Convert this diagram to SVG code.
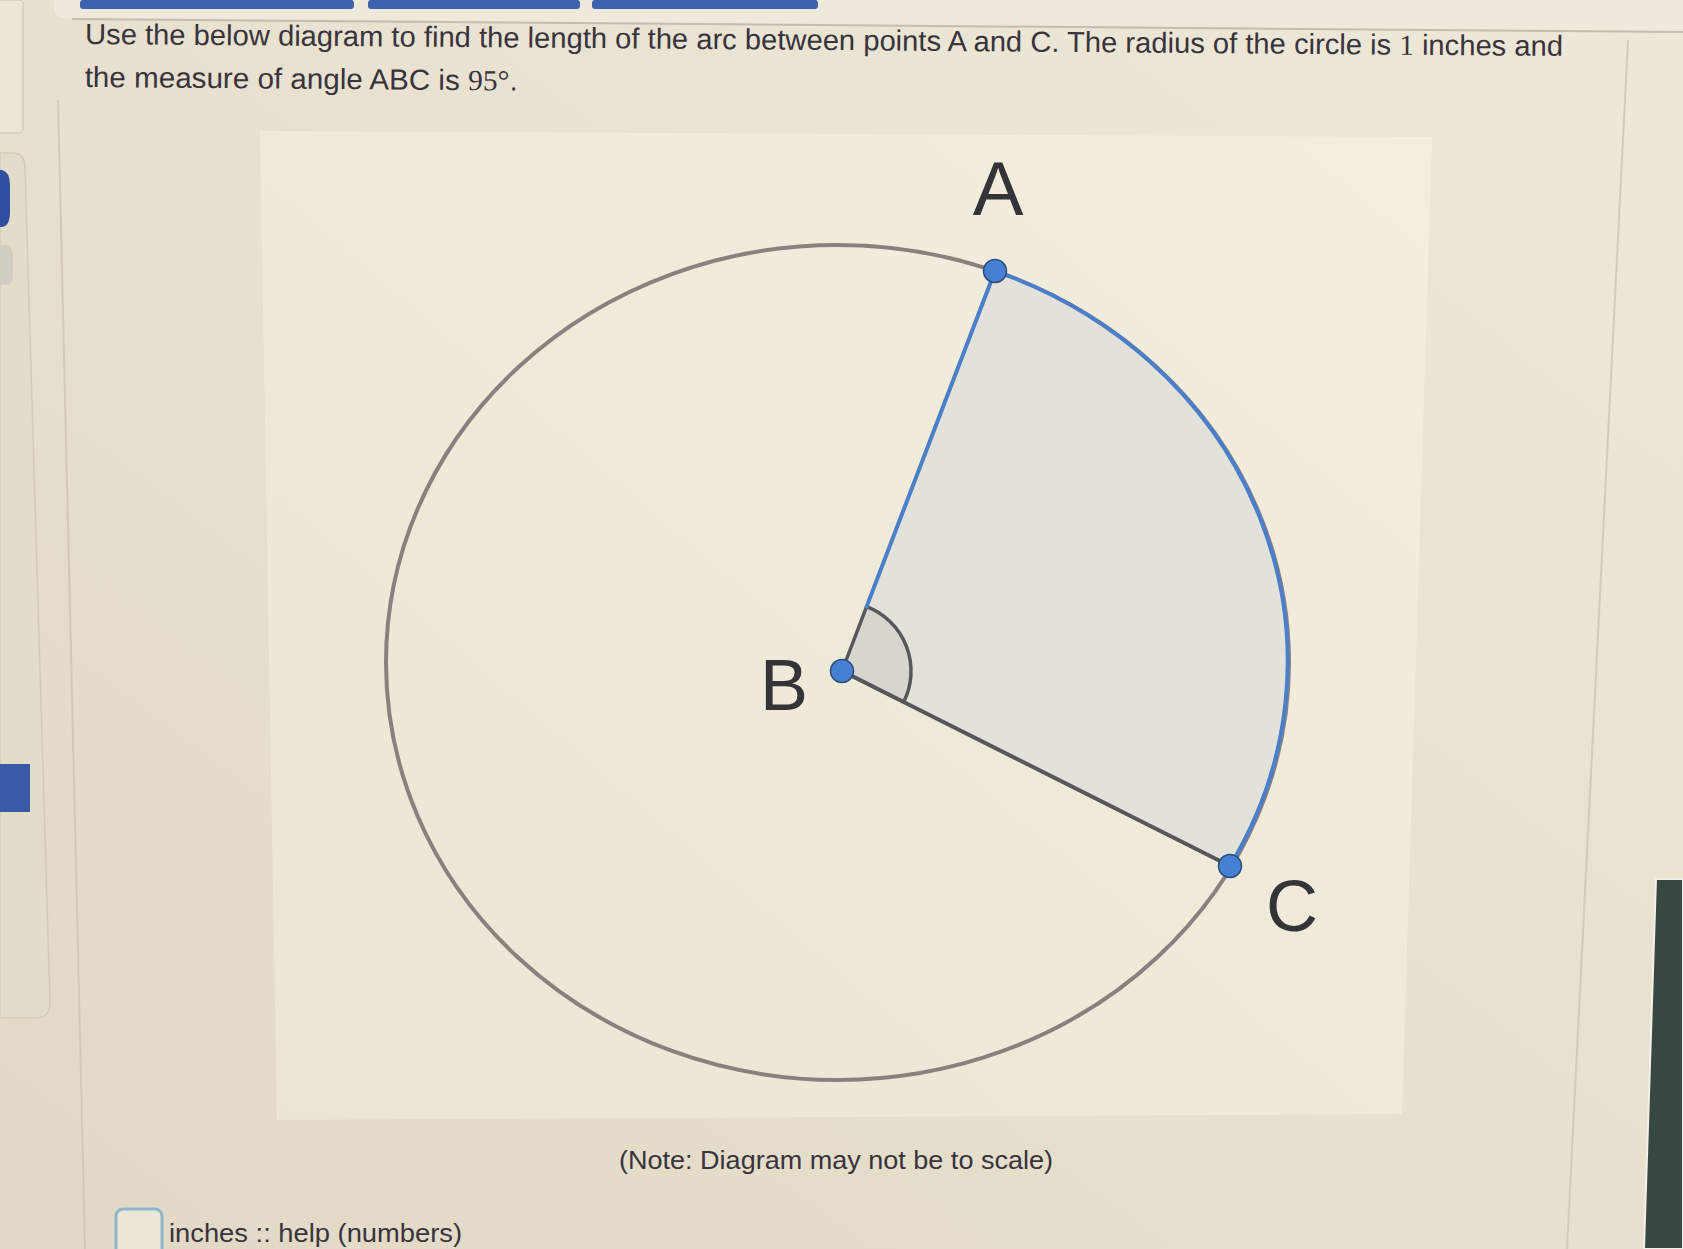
<svg xmlns="http://www.w3.org/2000/svg" width="1683" height="1249" viewBox="0 0 1683 1249">
<defs>
<linearGradient id="bg" x1="1" y1="0" x2="0" y2="1">
<stop offset="0" stop-color="#eee8d8"/>
<stop offset="1" stop-color="#e1d9c5"/>
</linearGradient>
<linearGradient id="panel" x1="1" y1="0" x2="0" y2="1">
<stop offset="0" stop-color="#f3eede"/>
<stop offset="1" stop-color="#ece5d3"/>
</linearGradient>
<style>
.t{font-family:"Liberation Sans",Arial,sans-serif;fill:#38333d}
.m{font-family:"Liberation Serif","Times New Roman",serif}
.lbl{font-family:"Liberation Sans",Arial,sans-serif;fill:#333338}
.pt{fill:#4580d2;stroke:#2d4c7c;stroke-width:1.5}
.blue{fill:none;stroke:#4a7fc9;stroke-width:4;stroke-linecap:round}
.dark{fill:none;stroke:#57575c;stroke-width:4;stroke-linecap:round}
</style>
</defs>
<rect width="1683" height="1249" fill="url(#bg)"/>
<!-- top band -->
<path d="M54 0 L1683 0 L1683 31 L72 19 Q56 19 54 10 Z" fill="#efe9dc"/>
<path d="M72 19 L1683 32" stroke="#c4bcac" stroke-width="2" fill="none"/>
<rect x="80" y="0" width="274" height="9" rx="3" fill="#3d62b0"/>
<rect x="368" y="0" width="212" height="9" rx="3" fill="#3d62b0"/>
<rect x="592" y="0" width="226" height="9" rx="3" fill="#3d62b0"/>
<!-- left sidebar -->
<rect x="-5" y="0" width="28" height="133" rx="4" fill="#ece6d6" stroke="#d4ccba" stroke-width="1.5"/>
<path d="M0 153 L12 153 Q25 153 25 168 L50 1003 Q50 1018 36 1018 L0 1018 Z" fill="#e3dcc9" stroke="#d3cbb7" stroke-width="1.5"/>
<path d="M0 170 L2 170 Q10 172 10 185 L10 212 Q10 226 2 227 L0 227 Z" fill="#2f4fa4"/>
<path d="M0 245 L5 245 Q13 246 13 256 L13 276 Q13 285 5 285 L0 285 Z" fill="#d2cdc2"/>
<rect x="0" y="764" width="30" height="48" fill="#3a5aa8"/>
<path d="M58 100 L85 1249" stroke="#d2cab7" stroke-width="2" fill="none"/>
<!-- right side -->
<path d="M1628 40 L1567 1249" stroke="#d3cbb9" stroke-width="2" fill="none"/>
<path d="M1656 879 L1683 879 L1683 1249 L1644 1249 Z" fill="#394743" stroke="#f3f0e8" stroke-width="2"/>
<!-- diagram panel -->
<path d="M260 131 L1432 137 L1402 1114 L277 1120 Z" fill="url(#panel)"/>
<!-- title -->
<g id="title" transform="rotate(0.465 85 44)">
<text class="t" x="85" y="44" font-size="29" textLength="1478" lengthAdjust="spacingAndGlyphs">Use the below diagram to find the length of the arc between points A and C. The radius of the circle is <tspan class="m">1</tspan> inches and</text>
<text class="t" x="85" y="87" font-size="29" textLength="433" lengthAdjust="spacingAndGlyphs">the measure of angle ABC is <tspan class="m">95°</tspan>.</text>
</g>
<!-- circle -->
<g id="circle">
<ellipse cx="837.5" cy="662.5" rx="451.5" ry="417.5" fill="none" stroke="#8a8080" stroke-width="4"/>
</g>
<g id="sector">
<path d="M842 671 L995 271 A451.5 417.5 0 0 1 1230 866 Z" fill="#e2e2db"/>
<path d="M842 671 L866.6 606.6 A69 69 0 0 1 903.7 702 Z" fill="#d6d5ce" stroke="#58585c" stroke-width="3.5" stroke-linejoin="round"/>
</g>
<g id="connectors">
<path class="blue" d="M866.6 606.6 L995 271"/>
<path class="blue" d="M995 271 A451.5 417.5 0 0 1 1230 866"/>
<path class="dark" d="M842 671 L1230 866"/>
</g>
<g id="A">
<circle class="pt" cx="995" cy="271" r="11.5"/>
<text class="lbl" x="998" y="215" font-size="76" text-anchor="middle">A</text>
</g>
<g id="B">
<circle class="pt" cx="842" cy="671" r="11.5"/>
<text class="lbl" x="808" y="710" font-size="72" text-anchor="end">B</text>
</g>
<g id="C">
<circle class="pt" cx="1230" cy="866" r="11.5"/>
<text class="lbl" x="1266" y="931" font-size="72">C</text>
</g>
<text class="t" x="619" y="1169" font-size="26" textLength="434" lengthAdjust="spacingAndGlyphs">(Note: Diagram may not be to scale)</text>
<g id="answer">
<rect x="116" y="1209" width="46" height="50" rx="7" fill="#ece6d7" stroke="#8fb6cc" stroke-width="3"/>
<text class="t" x="169" y="1242" font-size="26" textLength="293" lengthAdjust="spacingAndGlyphs">inches :: help (numbers)</text>
</g>
</svg>
